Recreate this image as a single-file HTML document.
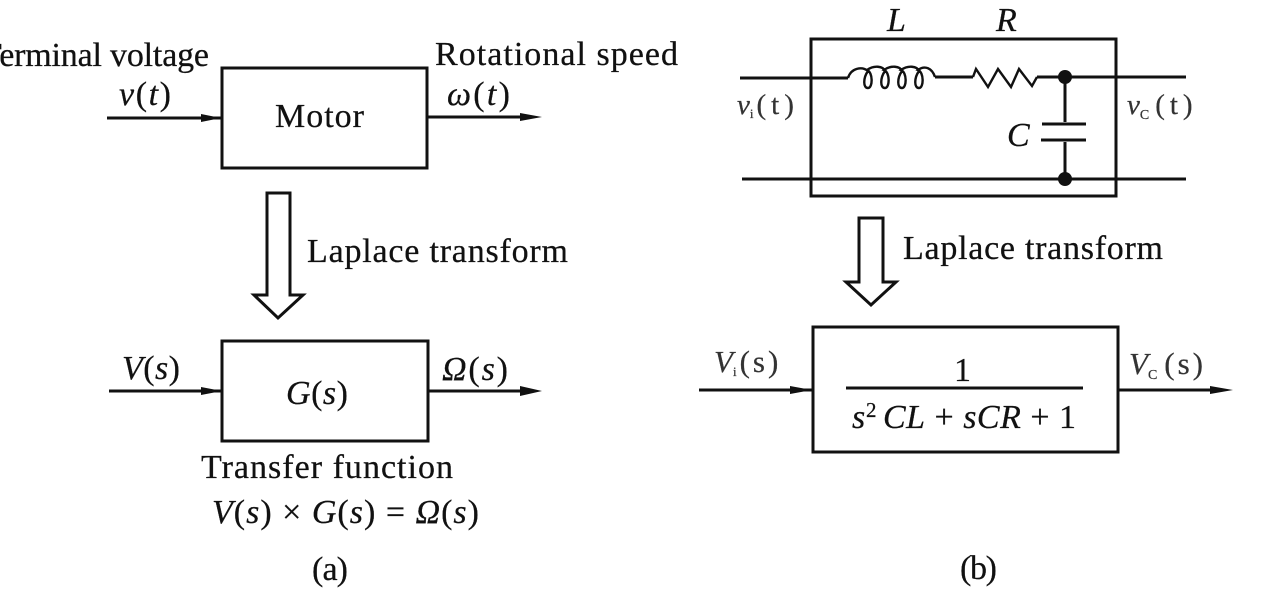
<!DOCTYPE html>
<html><head><meta charset="utf-8"><style>
html,body{margin:0;padding:0;background:#fff;width:1281px;height:591px;overflow:hidden}
svg{display:block}
text{font-family:"Liberation Serif",serif;fill:#111;font-size:34px;stroke:#111;stroke-width:.25}
.i{font-style:italic}
.g{fill:#333;stroke:#333}
</style></head><body>
<svg width="1281" height="591" viewBox="0 0 1281 591" xmlns="http://www.w3.org/2000/svg">
<g fill="none" stroke="#111" stroke-width="3">
<rect x="222" y="68" width="205" height="100"/>
<rect x="222" y="341" width="206" height="100"/>
<rect x="811" y="39" width="305" height="157"/>
<rect x="813" y="327" width="305" height="125"/>
<path d="M107 118H221M428 117H530M109 391H221M428 391H530M699 390H812M1119 390H1222"/>
<path d="M740 78H848M935 77H973M1037 77H1186M742 179H1186M1065 77V122M1065 142V179M1042 124H1086M1041 140H1086M846 388H1083"/>
<path d="M848 78C851 68 862 66 868 71C863 78 863 88 868 88C873 88 873 72 867 70C874 65 883 66 885 71C880 78 880 88 885 88C890 88 890 72 884 70C891 65 900 66 902 71C897 78 897 88 902 88C907 88 907 72 901 70C908 65 917 66 919 71C914 78 914 88 919 88C924 88 924 72 918 70C925 65 932 68 935 77" stroke-width="2.4"/>
<path d="M973 77L976 69L988 87L998 69L1011 87L1019 69L1032 86L1037 77" stroke-width="2.4"/>
<path d="M267 193H290V295H303L278 318L254 295H267Z"/>
<path d="M859 218H883V282H896L871 305L846 282H859Z"/>
</g>
<g fill="#111">
<path d="M201 114L221 118L201 122Z"/><path d="M520 113L542 117L520 121Z"/>
<path d="M201 387L222 391L201 395Z"/><path d="M520 386L542 391L520 396Z"/>
<path d="M790 386L812 390L790 394Z"/><path d="M1210 386L1233 390L1210 394Z"/>
<circle cx="1065" cy="77" r="7"/><circle cx="1065" cy="179" r="7"/>
</g>
<text x="-19" y="66" textLength="228">Terminal voltage</text>
<text x="435" y="65" textLength="243">Rotational speed</text>
<text x="119" y="105" textLength="52"><tspan class="i">v</tspan>(<tspan class="i">t</tspan>)</text>
<text x="447" y="105" textLength="63"><tspan class="i">ω</tspan>(<tspan class="i">t</tspan>)</text>
<text x="275" y="127" textLength="89">Motor</text>
<text x="307" y="262" textLength="261">Laplace transform</text>
<text x="122" y="379" textLength="58"><tspan class="i">V</tspan>(<tspan class="i">s</tspan>)</text>
<text x="442" y="380" textLength="66"><tspan class="i">Ω</tspan>(<tspan class="i">s</tspan>)</text>
<text x="286" y="404" textLength="62"><tspan class="i">G</tspan>(<tspan class="i">s</tspan>)</text>
<text x="201" y="478" textLength="252">Transfer function</text>
<text x="212" y="523" textLength="267"><tspan class="i">V</tspan>(<tspan class="i">s</tspan>) × <tspan class="i">G</tspan>(<tspan class="i">s</tspan>) = <tspan class="i">Ω</tspan>(<tspan class="i">s</tspan>)</text>
<text x="312" y="580" textLength="36">(a)</text>
<text x="887" y="31" class="i">L</text>
<text x="996" y="31" class="i">R</text>
<text x="1007" y="146" class="i">C</text>
<text x="737" y="114" class="g" style="font-size:29px"><tspan class="i">v</tspan><tspan dy="4" style="font-size:13px">i</tspan><tspan dy="-4" dx="3" letter-spacing="5">(t)</tspan></text>
<text x="1127" y="114" class="g" style="font-size:29px"><tspan class="i">v</tspan><tspan dy="5" style="font-size:14px">C</tspan><tspan dy="-5" dx="6" letter-spacing="5">(t)</tspan></text>
<text x="714" y="372" class="g" style="font-size:31px"><tspan class="i">V</tspan><tspan dy="4" style="font-size:13px">i</tspan><tspan dy="-4" dx="3" letter-spacing="3">(s)</tspan></text>
<text x="1129" y="374" class="g" style="font-size:31px"><tspan class="i">V</tspan><tspan dy="5" style="font-size:14px">C</tspan><tspan dy="-5" dx="7" letter-spacing="3">(s)</tspan></text>
<text x="903" y="259" textLength="260">Laplace transform</text>
<text x="954" y="381">1</text>
<text x="852" y="428" class="i">s</text>
<text x="866" y="417" style="font-size:21px">2</text>
<text x="883" y="428" textLength="193"><tspan class="i">CL</tspan> + <tspan class="i">sCR</tspan> + 1</text>
<text x="960" y="579" textLength="37">(b)</text>
</svg>
</body></html>
